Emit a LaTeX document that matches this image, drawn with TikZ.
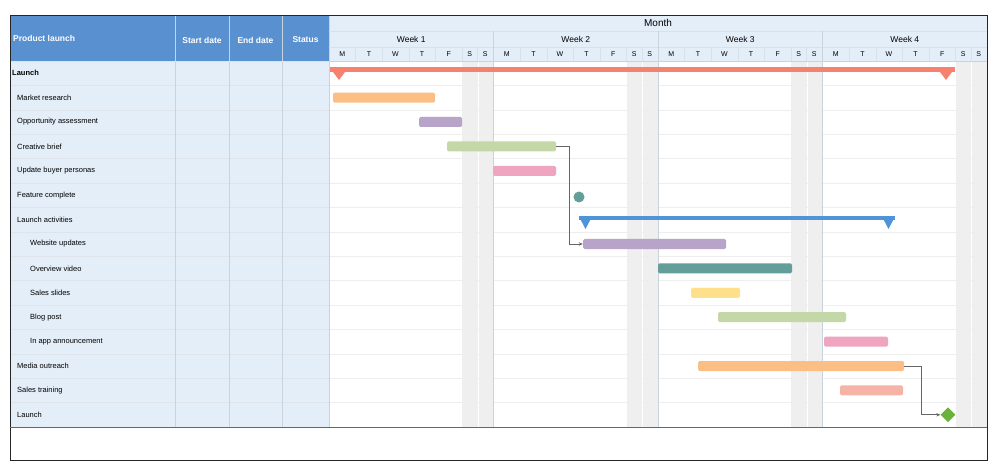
\documentclass[tikz,border=0pt]{standalone}
\usepackage{fontspec}
\setmainfont{Liberation Sans}
\usetikzlibrary{arrows.meta,shapes.geometric}
\definecolor{hdrblue}{HTML}{5890D0}
\definecolor{lightbg}{HTML}{E4EEF8}
\definecolor{gridc}{HTML}{C9D3DD}
\definecolor{rowline}{HTML}{EEEEEE}
\definecolor{wkend}{HTML}{EFEFEF}
\definecolor{corange}{HTML}{FBBF86}
\definecolor{cpurple}{HTML}{B8A4C9}
\definecolor{cgreen}{HTML}{C3D8A6}
\definecolor{cpink}{HTML}{EFA4BF}
\definecolor{cteal}{HTML}{639E9A}
\definecolor{cyellow}{HTML}{FEDF8A}
\definecolor{csalmon}{HTML}{F7B3A5}
\definecolor{cred}{HTML}{F7816F}
\definecolor{cblue}{HTML}{4E94D6}
\definecolor{cdiam}{HTML}{6BB23A}
\definecolor{conn}{HTML}{666666}
\tikzset{
  taskbar/.style={draw=none, rounded corners=1.5pt, minimum height=10pt, inner sep=0pt},
  lbl/.style={anchor=west, font=\fontsize{7.5}{9}\selectfont, inner sep=0pt},
  hdr/.style={font=\bfseries\fontsize{8.5}{10}\selectfont, text=white, inner sep=0pt},
  dayl/.style={font=\fontsize{7}{8}\selectfont, inner sep=0pt},
  weekl/.style={font=\fontsize{8.5}{10}\selectfont, inner sep=0pt},
  connarrow/.style={draw=conn, line width=0.9pt, -{Stealth[length=4pt,width=3.5pt]}}
}
\newcommand{\gbar}[5]{\node[taskbar, fill=#5, minimum width={#3-#2}] (#1) at ({(#2+#3)/2},{73.2+24.4*#4}) {};}
\begin{document}
\begin{tikzpicture}[x=1pt,y=-1pt]
\useasboundingbox (0,0) rectangle (1000,470);
\fill[white] (0,0) rectangle (1000,470);
% left body
\fill[lightbg] (10,61) rectangle (329,427);
% header left
\fill[hdrblue] (10,15) rectangle (329,61);
% timeline header
\fill[lightbg] (329,15) rectangle (987,61);
% weekend shading
\foreach \w in {0,1,2,3}{
  \fill[wkend] ({462+164.5*\w},61) rectangle ({477.5+164.5*\w},427);
  \fill[wkend] ({478.5+164.5*\w},61) rectangle ({493+164.5*\w},427);
}
% row lines
\foreach \i in {1,...,14}{
  \draw[gridc!60] (10,{61+24.4*\i}) -- (329,{61+24.4*\i});
  \draw[rowline] (329,{61+24.4*\i}) -- (987,{61+24.4*\i});
}
% column lines left
\foreach \x in {175,229,282}{ \draw[gridc] (\x,15) -- (\x,427); }
\draw[gridc] (329,15) -- (329,427);
% header lines
\draw[gridc!70] (329,31) -- (987,31);
\draw[gridc!70] (329,47) -- (987,47);
\draw[gridc] (329,61) -- (987,61);
\draw[gridc!60] (10,61) -- (329,61);
\foreach \w in {1,2,3}{ \draw[gridc] ({329+164.5*\w},31) -- ({329+164.5*\w},427); }
% day labels
\foreach \w/\wn in {0/1,1/2,2/3,3/4}{
  \node[weekl] (wk\wn) at ({329+164.5*\w+82.25},39) {Week \wn};
  \foreach \k/\d in {0/M,1/T,2/W,3/T,4/F}{
    \node[dayl] (d\wn\k) at ({329+164.5*\w+26.6*\k+13.3},54.5) {\d};
    \ifnum\k>0 \draw[gridc!70] ({329+164.5*\w+26.6*\k},47) -- ({329+164.5*\w+26.6*\k},61);\fi
  }
  \node[dayl] (d\wn5) at ({329+164.5*\w+140.75},54.5) {S};
  \node[dayl] (d\wn6) at ({329+164.5*\w+156.25},54.5) {S};
  \draw[gridc!70] ({329+164.5*\w+133},47) -- ({329+164.5*\w+133},61);
  \draw[gridc!70] ({329+164.5*\w+148.5},47) -- ({329+164.5*\w+148.5},61);
}
\node[font=\fontsize{10}{12}\selectfont, inner sep=0pt] (month) at (658,23) {Month};
% header texts
\node[hdr, anchor=west] (h1) at (13,38) {Product launch};
\node[hdr] (h2) at (202,40) {Start date};
\node[hdr] (h3) at (255.5,40) {End date};
\node[hdr] (h4) at (305.5,40) {Status};
% task labels
\node[lbl, font=\bfseries\fontsize{7.5}{9}\selectfont] (t0) at (12,73.2) {Launch};
\node[lbl] (t1) at (17,97.6) {Market research};
\node[lbl] (t2) at (17,122) {Opportunity assessment};
\node[lbl] (t3) at (17,146.4) {Creative brief};
\node[lbl] (t4) at (17,170.8) {Update buyer personas};
\node[lbl] (t5) at (17,195.2) {Feature complete};
\node[lbl] (t6) at (17,219.6) {Launch activities};
\node[lbl] (t7) at (30,244) {Website updates};
\node[lbl] (t8) at (30,268.4) {Overview video};
\node[lbl] (t9) at (30,292.8) {Sales slides};
\node[lbl] (t10) at (30,317.2) {Blog post};
\node[lbl] (t11) at (30,341.6) {In app announcement};
\node[lbl] (t12) at (17,366) {Media outreach};
\node[lbl] (t13) at (17,390.4) {Sales training};
\node[lbl] (t14) at (17,414.8) {Launch};
% summary bars
\node[fill=cred, minimum width=625pt, minimum height=5pt, inner sep=0pt] (sum1) at (642.5,70) {};
\fill[cred] (330,68) -- (348,68) -- (339,80) -- cycle;
\fill[cred] (937,68) -- (955,68) -- (946,80) -- cycle;
\node[fill=cblue, minimum width=316pt, minimum height=4.5pt, inner sep=0pt] (sum2) at (737,218) {};
\fill[cblue] (579,216.5) -- (592,216.5) -- (585.5,229) -- cycle;
\fill[cblue] (882,216.5) -- (895,216.5) -- (888.5,229) -- cycle;
% task bars
\gbar{b1}{333}{435}{1}{corange}
\gbar{b2}{419}{462}{2}{cpurple}
\gbar{b3}{447}{556}{3}{cgreen}
\gbar{b4}{493}{556}{4}{cpink}
\node[circle, fill=cteal, minimum size=11pt, inner sep=0pt] (m1) at (579,197) {};
\gbar{b7}{583}{726}{7}{cpurple}
\gbar{b8}{658}{792}{8}{cteal}
\gbar{b9}{691}{740}{9}{cyellow}
\gbar{b10}{718}{846}{10}{cgreen}
\gbar{b11}{824}{888}{11}{cpink}
\gbar{b12}{698}{904}{12}{corange}
\gbar{b13}{840}{903}{13}{csalmon}
\node[diamond, fill=cdiam, minimum size=15pt, inner sep=0pt, aspect=1] (m2) at (948,414.8) {};
% connectors
\draw[connarrow] (b3.east) -- ++(13,0) |- (b7.west);
\draw[connarrow] (b12.east) -- ++(17,0) |- (m2.west);
% frame
\draw[line width=0.9pt, black!85] (10,15) rectangle (987,460);
\draw[conn, line width=0.6pt] (10,427) -- (987,427);
\end{tikzpicture}
\end{document}
